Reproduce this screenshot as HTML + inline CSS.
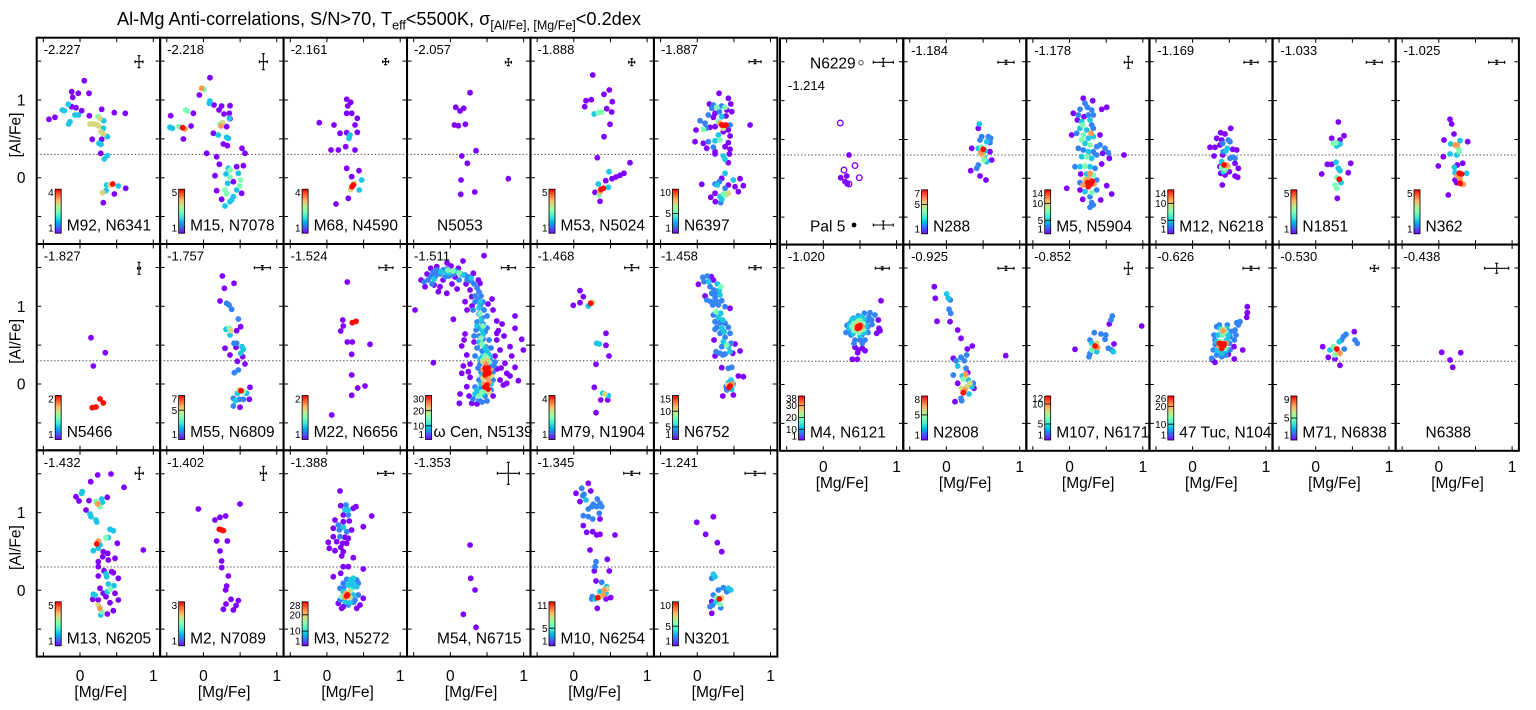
<!DOCTYPE html>
<html><head><meta charset="utf-8"><style>
html,body{margin:0;padding:0;background:#fff}
svg{display:block}
text{font-family:"Liberation Sans",Arial,sans-serif;fill:#000}
.d{fill:none;stroke-width:5.8;stroke-linecap:round}
.p{stroke:#8000ff}.b{stroke:#3584f5}.c{stroke:#1ec6e6}.g{stroke:#80ffb4}.y{stroke:#d6d880}.o{stroke:#ff9a55}.r{stroke:#ff0a00}
.eb{fill:none;stroke:#000;stroke-width:1.1}
.fe{font-size:13px}
.nm{font-size:15.5px}
.cb{font-size:10px;text-anchor:end}
.ct{fill:none;stroke:#000;stroke-width:.8}
.ax{font-size:15.5px}
</style></head><body>
<svg width="1536" height="710" viewBox="0 0 1536 710" xmlns="http://www.w3.org/2000/svg">
<defs>
<linearGradient id="rb" x1="0" y1="1" x2="0" y2="0">
<stop offset="0" stop-color="#8000ff"/><stop offset=".125" stop-color="#4062fa"/><stop offset=".25" stop-color="#00b4eb"/><stop offset=".375" stop-color="#40ebd4"/><stop offset=".5" stop-color="#80ffb4"/><stop offset=".625" stop-color="#bfeb8e"/><stop offset=".75" stop-color="#ffb462"/><stop offset=".875" stop-color="#ff6232"/><stop offset="1" stop-color="#ff0000"/>
</linearGradient>
<g id="ax">
<path d="M0 116.7H123.4" stroke="#555" stroke-width="1" stroke-dasharray="1.5 2" fill="none"/>
<path d="M6.65 0v4.5M43.3 0v4.5M80 0v4.5M116.6 0v4.5M6.65 206.3v-4.5M43.3 206.3v-4.5M80 206.3v-4.5M116.6 206.3v-4.5M0 23.45h4.5M0 62.3h4.5M0 101.15h4.5M0 140h4.5M0 178.85h4.5M123.4 23.45h-4.5M123.4 62.3h-4.5M123.4 101.15h-4.5M123.4 140h-4.5M123.4 178.85h-4.5" stroke="#000" stroke-width="1" fill="none"/>
<rect x="0" y="0" width="123.4" height="206.3" fill="none" stroke="#000" stroke-width="2"/>
</g>
<rect id="cb" x="18.5" y="151.5" width="6" height="44" fill="url(#rb)" stroke="#000" stroke-width=".8"/>
</defs>
<rect width="1536" height="710" fill="#fff"/>

<!-- Title -->
<text x="117" y="25" style="font-size:18.2px">Al-Mg Anti-correlations, S/N&gt;70, T<tspan dy="4.5" style="font-size:12.5px">eff</tspan><tspan dy="-4.5">&lt;5500K, σ</tspan><tspan dy="4.5" style="font-size:12.5px">[Al/Fe], [Mg/Fe]</tspan><tspan dy="-4.5">&lt;0.2dex</tspan></text>

<!-- Y axis labels left -->
<g class="ax">
<text x="25.5" y="105.5" text-anchor="end">1</text><text x="25.5" y="183.2" text-anchor="end">0</text>
<text transform="translate(20.5,135) rotate(-90)" text-anchor="middle">[Al/Fe]</text>
<text x="25.5" y="311.8" text-anchor="end">1</text><text x="25.5" y="389.5" text-anchor="end">0</text>
<text transform="translate(20.5,341.3) rotate(-90)" text-anchor="middle">[Al/Fe]</text>
<text x="25.5" y="518.1" text-anchor="end">1</text><text x="25.5" y="595.8" text-anchor="end">0</text>
<text transform="translate(20.5,547.6) rotate(-90)" text-anchor="middle">[Al/Fe]</text>
</g>

<!-- X axis labels left block -->
<g class="ax" text-anchor="middle">
<text x="80" y="681">0</text><text x="153.3" y="681">1</text><text x="100.7" y="697">[Mg/Fe]</text>
<text x="203.45" y="681">0</text><text x="276.75" y="681">1</text><text x="224.15" y="697">[Mg/Fe]</text>
<text x="326.9" y="681">0</text><text x="400.2" y="681">1</text><text x="347.6" y="697">[Mg/Fe]</text>
<text x="450.35" y="681">0</text><text x="523.65" y="681">1</text><text x="471.05" y="697">[Mg/Fe]</text>
<text x="573.8" y="681">0</text><text x="647.1" y="681">1</text><text x="594.5" y="697">[Mg/Fe]</text>
<text x="697.25" y="681">0</text><text x="770.55" y="681">1</text><text x="717.95" y="697">[Mg/Fe]</text>
<!-- right block -->
<text x="823.3" y="472">0</text><text x="896.6" y="472">1</text><text x="842" y="488">[Mg/Fe]</text>
<text x="946.4" y="472">0</text><text x="1019.7" y="472">1</text><text x="965.1" y="488">[Mg/Fe]</text>
<text x="1069.5" y="472">0</text><text x="1142.8" y="472">1</text><text x="1088.2" y="488">[Mg/Fe]</text>
<text x="1192.6" y="472">0</text><text x="1265.9" y="472">1</text><text x="1211.3" y="488">[Mg/Fe]</text>
<text x="1315.7" y="472">0</text><text x="1389" y="472">1</text><text x="1334.4" y="488">[Mg/Fe]</text>
<text x="1438.8" y="472">0</text><text x="1512.1" y="472">1</text><text x="1457.5" y="488">[Mg/Fe]</text>
</g>

<!-- ===== LEFT BLOCK ROW 1 ===== -->
<g transform="translate(36.7,37.7)">
<use href="#ax"/><use href="#cb"/>
<text class="cb" x="17" y="158.5">4</text><text class="cb" x="17" y="194">1</text>
<path class="d p" d="M12.3 81.6h.01M18.3 79.6h.01M47.6 43h.01M35 54h.01M36 59.6h.01M41.6 55.6h.01M52.3 55.6h.01M35 69h.01M39.3 70h.01M45 73h.01M52.6 78h.01M65 71.6h.01M77.6 75h.01M88.6 75.6h.01M55.6 101.6h.01M65 101.6h.01M64 115.6h.01M77.6 156.3h.01M89 150.6h.01M66.6 165h.01"/>
<path class="d c" d="M25.6 72.3h.01M27.6 73h.01M31.6 66.6h.01M38.3 77.3h.01M41.6 77.3h.01M33.3 84h.01M32 86.3h.01M67 83h.01M66.7 90.6h.01M70.6 99h.01M62.3 105.6h.01M64.3 106.6h.01M70.6 118h.01M67.6 121.3h.01M70 147.3h.01M81.6 148.3h.01M69.3 153h.01"/>
<path class="d g" d="M61.6 79h.01"/>
<path class="d y" d="M63.3 80.6h.01M53.3 86.3h.01M56 86.3h.01M59.3 86.6h.01M62 88.3h.01M64.3 94h.01M66.7 96.3h.01M73.3 147.3h.01M66 155h.01"/>
<path class="d r" d="M76 146.3h.01"/>
<path class="eb" d="M98.3 24H106.3M102.3 18V30M98.3 22.5v3M106.3 22.5v3M100.8 18h3M100.8 30h3"/>
<text class="fe" x="7" y="16.5">-2.227</text><text class="nm" x="30" y="193">M92, N6341</text>
</g>

<g transform="translate(160.15,37.7)">
<use href="#ax"/><use href="#cb"/>
<text class="cb" x="17" y="158.5">5</text><text class="cb" x="17" y="194">1</text>
<path class="d p" d="M10.5 78h.01M23.2 101.3h.01M30.9 88.3h.01M33.2 75.6h.01M39.2 57.3h.01M49.8 40h.01M53.85 67.3h.01M58.85 72.3h.01M69.85 68h.01M61.5 68.3h.01M63.85 76.3h.01M69.2 75.6h.01M69.85 81h.01M66.5 89h.01M53.2 95.6h.01M63.2 106.3h.01M67.2 108h.01M46.5 115.6h.01M56.5 119h.01M81.85 110.6h.01M84.85 115.6h.01M59.2 126.6h.01M76.5 129h.01M83.2 128h.01M73.2 144h.01M54.85 138h.01M56.5 153h.01M81.5 155.6h.01M61.5 161.6h.01"/>
<path class="d c" d="M9.8 89.6h.01M12.2 90.6h.01M49.8 63.3h.01M49.2 65.6h.01M69.2 80.6h.01M58.2 97.3h.01M66.5 99.6h.01M68.2 100.6h.01M68.2 130.6h.01M65.85 136.3h.01M78.2 135.6h.01M67.5 145.6h.01M76.5 152.3h.01M73.2 159h.01M71.5 162.3h.01M69.85 164h.01M64.85 168.3h.01"/>
<path class="d g" d="M18.85 89h.01M25.5 72.3h.01M27.2 73.3h.01M43.85 51.6h.01M59.85 86.3h.01M69.85 132.3h.01M69.85 139.6h.01M80.5 142.3h.01M79.5 148.3h.01M64.85 152.3h.01M66.5 156.3h.01"/>
<path class="d y" d="M62.5 85h.01"/>
<path class="d o" d="M24.85 91.3h.01M41.5 50.6h.01M60.85 88.3h.01"/>
<path class="d r" d="M22.5 90h.01"/>
<path class="eb" d="M99.2 24H107.2M103.2 16V32M99.2 22.5v3M107.2 22.5v3M101.7 16h3M101.7 32h3"/>
<text class="fe" x="7" y="16.5">-2.218</text><text class="nm" x="30" y="193">M15, N7078</text>
</g>

<g transform="translate(283.6,37.7)">
<use href="#ax"/><use href="#cb"/>
<text class="cb" x="17" y="158.5">4</text><text class="cb" x="17" y="194">1</text>
<path class="d p" d="M35.7 85h.01M50.4 87.3h.01M56.4 95.6h.01M63.1 95h.01M63.1 75.6h.01M63.1 61.6h.01M67.1 64.6h.01M64.1 68.3h.01M68.1 75.6h.01M73.7 80.6h.01M73.7 94.6h.01M71.4 87.3h.01M62.1 109h.01M47.4 112.3h.01M54.7 112.3h.01M71.4 112.3h.01M63.1 130.6h.01M68.1 139h.01M75.4 133h.01M64.7 160.6h.01M52.4 166.3h.01"/>
<path class="d c" d="M66.4 97.3h.01M65.4 100.6h.01M78 142.3h.01M75.7 152.3h.01"/>
<path class="d y" d="M70.7 145.6h.01M67.1 151.6h.01"/>
<path class="d r" d="M69.7 147.3h.01M68.4 149h.01"/>
<path class="eb" d="M99 24H105M102 21V27M99 22.5v3M105 22.5v3M100.5 21h3M100.5 27h3"/>
<text class="fe" x="7" y="16.5">-2.161</text><text class="nm" x="30" y="193">M68, N4590</text>
</g>

<g transform="translate(407.05,37.7)">
<use href="#ax"/>
<path class="d p" d="M63 55h.01M48.7 69.6h.01M53 73.3h.01M56.7 70.6h.01M47.3 87.3h.01M51.3 88h.01M58.3 86.6h.01M69 113h.01M54.7 118.3h.01M60.3 125.6h.01M54 142.3h.01M101.3 141h.01M53.7 156.6h.01M67.7 154.3h.01"/>
<path class="eb" d="M98.3 24.5H104.3M101.3 21V28M98.3 23v3M104.3 23v3M99.8 21h3M99.8 28h3"/>
<text class="fe" x="7" y="16.5">-2.057</text><text class="nm" x="30" y="193">N5053</text>
</g>

<g transform="translate(530.5,37.7)">
<use href="#ax"/><use href="#cb"/>
<text class="cb" x="17" y="158.5">5</text><text class="cb" x="17" y="194">1</text>
<path class="d p" d="M62.2 37.3h.01M78.8 52.3h.01M73.5 56.6h.01M55.5 63h.01M60.8 62h.01M81.8 64h.01M54.2 69h.01M76.2 71h.01M81.2 74.3h.01M79.5 86.6h.01M73.5 99h.01M66.8 120h.01M99.5 125h.01M93.5 135.6h.01M89.5 137.6h.01M85.5 139.3h.01M81.5 141h.01M75.2 143h.01M64.5 154.6h.01M69.5 163.6h.01"/>
<path class="d c" d="M63.8 76.3h.01M78.5 134h.01M67.8 146.3h.01M77.8 149.6h.01"/>
<path class="d g" d="M67.8 75h.01M71.2 74.3h.01M68.5 157.3h.01"/>
<path class="d o" d="M69.5 154h.01"/>
<path class="d r" d="M70.5 151.6h.01M72.8 150.6h.01"/>
<path class="eb" d="M98.2 24.5H104.2M101.2 21V28M98.2 23v3M104.2 23v3M99.7 21h3M99.7 28h3"/>
<text class="fe" x="7" y="16.5">-1.888</text><text class="nm" x="30" y="193">M53, N5024</text>
</g>

<g transform="translate(653.95,37.7)">
<use href="#ax"/><use href="#cb"/>
<path class="ct" d="M18.5 175.9h6"/>
<text class="cb" x="17" y="158.5">10</text><text class="cb" x="17" y="179.5">5</text><text class="cb" x="17" y="194">1</text>
<path class="d p" d="M65.1 55.6h.01M74.4 60.6h.01M76.8 66.3h.01M55.4 66.3h.01M72.8 72.3h.01M61.1 75.6h.01M77.8 74h.01M59.4 79.6h.01M72.1 78.3h.01M56.1 89.6h.01M96.1 87.3h.01M61.1 89h.01M69.4 94h.01M42.1 92.3h.01M74.4 92.3h.01M76.1 98.3h.01M41.1 104h.01M49.4 105.6h.01M74.4 105h.01M71.1 109h.01M52.8 110.6h.01M61.1 114h.01M76.1 111.6h.01M61.1 116.3h.01M75.4 116.3h.01M74.4 125h.01M67.8 140.6h.01M86.1 141h.01M89.4 148h.01M81.1 149h.01M47.8 146.6h.01M74.4 147.3h.01M84.4 154h.01M61.1 155.6h.01M56.8 159.6h.01M61.4 164h.01"/>
<path class="d b" d="M59.4 67.3h.01M67.8 68.3h.01M57.8 70.6h.01M65.4 74h.01M54.4 77.3h.01M46.1 83h.01M51.1 85.6h.01M52.1 90.6h.01M76.1 87.3h.01M54.4 104h.01M59.4 109.6h.01M65.4 144h.01M61.1 146.3h.01M71.1 150.6h.01M66.8 165h.01"/>
<path class="d c" d="M67.8 79h.01M64.4 97.3h.01M61.1 103h.01M69.4 118.3h.01M71.1 121.6h.01M71.1 135.6h.01M79.4 142.3h.01M63.4 147.3h.01M66.1 159h.01M67.8 161.6h.01"/>
<path class="d g" d="M62.8 69.6h.01M71.1 69.6h.01M64.4 84h.01M49.4 91.6h.01M66.1 102.3h.01M72.1 157.3h.01M69.4 156.3h.01"/>
<path class="d y" d="M69.4 90.6h.01M74.4 155.6h.01"/>
<path class="d o" d="M66.1 85.6h.01"/>
<path class="d r" d="M67.8 87.3h.01M72.1 87.3h.01M70 87.5h.01"/>
<path class="eb" d="M95.1 24H107.1M101.1 22V26M95.1 22.5v3M107.1 22.5v3M99.6 22h3M99.6 26h3"/>
<text class="fe" x="7" y="16.5">-1.887</text><text class="nm" x="30" y="193">N6397</text>
</g>

<!-- ===== LEFT BLOCK ROW 2 ===== -->
<g transform="translate(36.7,244)">
<use href="#ax"/><use href="#cb"/>
<text class="cb" x="17" y="158.5">2</text><text class="cb" x="17" y="194">1</text>
<path class="d p" d="M54.3 93.7h.01M68.6 108.7h.01M56.6 122h.01"/>
<path class="d r" d="M63.3 155h.01M66.6 159h.01M55.6 163.7h.01M59.3 163h.01"/>
<path class="eb" d="M100.8 24.3H103.8M102.3 18.3V30.3M100.8 22.8v3M103.8 22.8v3M100.8 18.3h3M100.8 30.3h3"/>
<text class="fe" x="7" y="16.5">-1.827</text><text class="nm" x="30" y="193">N5466</text>
</g>

<g transform="translate(160.15,244)">
<use href="#ax"/><use href="#cb"/>
<path class="ct" d="M18.5 166.2h6"/>
<text class="cb" x="17" y="158.5">7</text><text class="cb" x="17" y="169.8">5</text><text class="cb" x="17" y="194">1</text>
<path class="d p" d="M62.2 32h.01M73.85 39.3h.01M64.2 44.3h.01M59.85 57h.01M76.5 86.7h.01M80.5 82.7h.01M64.85 104.3h.01M75.85 103.3h.01M69.85 111h.01M82.5 112.7h.01M77.2 117.3h.01M84.85 120h.01M89.85 143.3h.01M89.2 155.3h.01M79.85 163.3h.01"/>
<path class="d b" d="M66.5 59.3h.01M68.85 61h.01M71.5 65.3h.01M78.2 75h.01M73.85 99.3h.01M76.5 99.3h.01M78.2 126h.01M74.2 128.7h.01M73.2 154.3h.01M79.2 155.3h.01M83.2 155.3h.01M73.2 162h.01"/>
<path class="d c" d="M65.85 85.3h.01M69.85 91h.01M81.85 102.7h.01M83.2 105.3h.01M80.5 109.3h.01M86.5 149.3h.01M77.2 149.3h.01M75.2 156.7h.01"/>
<path class="d g" d="M69.2 84.3h.01M83.2 147.7h.01"/>
<path class="d y" d="M70.85 86.7h.01M79.2 146h.01"/>
<path class="d r" d="M80.85 146.7h.01"/>
<path class="eb" d="M94.2 23.7H110.2M102.2 21.7V25.7M94.2 22.2v3M110.2 22.2v3M100.7 21.7h3M100.7 25.7h3"/>
<text class="fe" x="7" y="16.5">-1.757</text><text class="nm" x="30" y="193">M55, N6809</text>
</g>

<g transform="translate(283.6,244)">
<use href="#ax"/><use href="#cb"/>
<text class="cb" x="17" y="158.5">2</text><text class="cb" x="17" y="194">1</text>
<path class="d p" d="M63.7 38h.01M59.1 76h.01M59.7 82h.01M57.1 87h.01M63.7 98h.01M68.7 98h.01M86.4 100.3h.01M68.1 110.3h.01M68.1 131h.01M81.4 142h.01M74.1 144h.01M68.1 151.3h.01M48.1 171h.01"/>
<path class="d r" d="M68.7 78.7h.01M72.4 77.3h.01"/>
<path class="eb" d="M95.4 23.7H109.4M102.4 21.2V26.2M95.4 22.2v3M109.4 22.2v3M100.9 21.2h3M100.9 26.2h3"/>
<text class="fe" x="7" y="16.5">-1.524</text><text class="nm" x="30" y="193">M22, N6656</text>
</g>

<g transform="translate(407.05,244)">
<use href="#ax"/><use href="#cb"/>
<path class="ct" d="M18.5 166.7h6M18.5 181.8h6"/>
<text class="cb" x="17" y="158.5">30</text><text class="cb" x="17" y="170.3">20</text><text class="cb" x="17" y="185.4">10</text><text class="cb" x="17" y="194">1</text>
<path class="d p" d="M77 11.7h.01M8 66h.01M46.3 75.3h.01M26.3 118.7h.01M53 150h.01M52.3 159.3h.01M64.7 159.3h.01M108 72h.01M114.7 95.3h.01M116.3 106h.01M111.3 136.7h.01M108 84.3h.01M91.3 86.7h.01M89.7 77h.01M71.3 36h.01M39.7 49.3h.01M31.3 47.7h.01M18 42.7h.01M104.7 112h.01M108 123.3h.01M99.7 129.3h.01M93 136h.01M96.3 141h.01M54.7 102h.01M56.3 122h.01M61.3 127.7h.01M63 133.3h.01M59.7 142.7h.01M93 106h.01M103 102.7h.01M89.7 96h.01M58 57.7h.01M64.7 52.7h.01M51.3 24.3h.01M23.7 24.3h.01M29.7 22.7h.01M66.3 29.3h.01M73 39.3h.01M33 42.7h.01M63 46h.01M89.7 89.3h.01M98 119.3h.01M59.7 111h.01M54.7 129.3h.01M99.7 139.3h.01M20 30h.01M14 36h.01M45 40h.01M50 45h.01M85 55h.01M86 66h.01M58 90h.01M57 96h.01M97 92h.01M88 112h.01M94 124h.01M62 152h.01M70 160h.01M86 152h.01M44 22h.01M40 19h.01M56 17h.01M81 60h.01M95 80h.01M60 66h.01M65 62h.01M67 98h.01M90 125h.01M103 132h.01M63 120h.01M48 33h.01M36 36h.01M27 41h.01M59 40h.01"/>
<path class="d b" d="M21 36h.01M24 32h.01M26 28h.01M30 26h.01M28 33h.01M33 30h.01M36 26h.01M40 25h.01M44 27h.01M47 30h.01M50 28h.01M54 30h.01M58 31h.01M62 33h.01M64 37h.01M67 40h.01M70 44h.01M72 48h.01M74 52h.01M71 56h.01M76 58h.01M73 62h.01M77 66h.01M72 70h.01M75 74h.01M70 78h.01M76 80h.01M73 84h.01M78 88h.01M72 92h.01M76 95h.01M74 100h.01M79 103h.01M75 107h.01M81 110h.01M77 113h.01M83 116h.01M84 122h.01M73 120h.01M74 128h.01M86 128h.01M72 136h.01M86 136h.01M74 144h.01M84 146h.01M70 150h.01M78 152h.01M66 155h.01M72 156h.01M80 157h.01M17 38h.01M25 40h.01M38 33h.01M52 36h.01M68 52h.01M66 66h.01M80 72h.01M82 96h.01M70 104h.01M88 118h.01M68 112h.01M68 58h.01M69 86h.01M80 84h.01M67 92h.01M84 104h.01M71 124h.01M87 122h.01M75 158h.01M68 143h.01M30 30h.01M42 32h.01M60 36h.01"/>
<path class="d c" d="M34 28h.01M42 29h.01M56 31h.01M64 34h.01M27 35h.01M72 64h.01M74 76h.01M70 82h.01M76 90h.01M72 98h.01M78 104h.01M80 108h.01M73 115h.01M74 140h.01M84 140h.01M70 146h.01M76 150h.01M68 150h.01M48 27h.01M39 28h.01M73 58h.01M75 86h.01M76 112h.01M75 132h.01M83 112h.01"/>
<path class="d g" d="M46 27h.01M52 29h.01M73 70h.01M76 82h.01M75 100h.01M78 112h.01M82 118h.01M75 148h.01M72 152h.01M80 124h.01M41 26h.01M74 94h.01M80 114h.01M76 116h.01M79 146h.01"/>
<path class="d y" d="M80 116h.01M76 118h.01M84 132h.01M76 134h.01M82 148h.01"/>
<path class="d o" d="M76 126h.01M83 126h.01M79 120h.01M80 134h.01M77 140h.01M82 138h.01"/>
<path class="d r" d="M78 124h.01M81 124h.01M79 128h.01M82 129h.01M78 131h.01M80 141h.01M78 143h.01M81 145h.01"/>
<path class="eb" d="M94.3 23.7H108.3M101.3 21.7V25.7M94.3 22.2v3M108.3 22.2v3M99.8 21.7h3M99.8 25.7h3"/>
<text class="fe" x="7" y="16.5">-1.511</text><text class="nm" x="26.5" y="193">ω Cen, N5139</text>
</g>

<g transform="translate(530.5,244)">
<use href="#ax"/><use href="#cb"/>
<text class="cb" x="17" y="158.5">4</text><text class="cb" x="17" y="194">1</text>
<path class="d p" d="M49.5 46.7h.01M52.8 52.7h.01M42.8 61.3h.01M49.5 58.7h.01M75.5 89.3h.01M75.5 101.3h.01M78.5 112h.01M65.5 120.3h.01M63.8 143.3h.01M70.2 156h.01M77.2 156h.01M65.5 168.7h.01"/>
<path class="d c" d="M57.8 62h.01M66.2 99.3h.01M68.8 100h.01M72.2 149.3h.01M77.8 151.7h.01"/>
<path class="d y" d="M62.2 58.3h.01M74.5 150h.01"/>
<path class="d r" d="M60.2 59.3h.01"/>
<path class="eb" d="M94.2 23.7H108.2M101.2 20.7V26.7M94.2 22.2v3M108.2 22.2v3M99.7 20.7h3M99.7 26.7h3"/>
<text class="fe" x="7" y="16.5">-1.468</text><text class="nm" x="30" y="193">M79, N1904</text>
</g>

<g transform="translate(653.95,244)">
<use href="#ax"/><use href="#cb"/>
<path class="ct" d="M18.5 167.2h6M18.5 182.9h6"/>
<text class="cb" x="17" y="158.5">15</text><text class="cb" x="17" y="170.8">10</text><text class="cb" x="17" y="186.5">5</text><text class="cb" x="17" y="194">1</text>
<path class="d p" d="M57.4 32.7h.01M59.4 36h.01M44.4 40.3h.01M51.1 52h.01M76.1 64.3h.01M60.1 96h.01M81.1 100h.01M86.1 107h.01M61.1 112h.01M78.8 109.3h.01M67.8 123.7h.01M84.4 132h.01M89.4 132.7h.01M68.8 152h.01M79.4 151h.01"/>
<path class="d b" d="M48.8 33.3h.01M53.4 32h.01M50.1 37.7h.01M56.1 42.7h.01M60.1 46h.01M57.8 49.3h.01M62.8 49.3h.01M61.1 53.3h.01M52.8 56h.01M56.8 57.7h.01M62.1 56.7h.01M67.8 56.7h.01M58.8 61h.01M64.4 61h.01M71.1 62.7h.01M59.4 71h.01M61.1 77.7h.01M66.1 78.7h.01M71.1 79.3h.01M62.8 83.3h.01M61.1 85.3h.01M74.4 83.3h.01M76.1 89.3h.01M66.1 89.3h.01M71.1 93.3h.01M67.8 102.7h.01M77.1 99.3h.01M62.1 107.7h.01M66.1 109.3h.01M71.1 110h.01M68.8 111h.01M74.4 124.3h.01M77.8 123.3h.01M72.1 142.7h.01M72.8 146h.01"/>
<path class="d c" d="M54.8 37.7h.01M63.4 40h.01M65.4 46h.01M66.1 51h.01M66.8 69.3h.01M64.4 73.3h.01M68.8 76h.01M67.8 84.3h.01M70.1 87.7h.01M69.4 97.7h.01M74.4 102.7h.01M76.1 107.7h.01M77.1 136h.01M74.4 138.7h.01M79.4 140h.01M77.8 145.3h.01"/>
<path class="d g" d="M66.8 42.7h.01M62.1 67.7h.01M72.8 101h.01"/>
<path class="d y" d="M74 141h.01"/>
<path class="d o" d="M78 140h.01"/>
<path class="d r" d="M76.1 142h.01M75 143.5h.01"/>
<path class="eb" d="M95.1 23.7H107.1M101.1 21.7V25.7M95.1 22.2v3M107.1 22.2v3M99.6 21.7h3M99.6 25.7h3"/>
<text class="fe" x="7" y="16.5">-1.458</text><text class="nm" x="30" y="193">N6752</text>
</g>

<!-- ===== LEFT BLOCK ROW 3 ===== -->
<g transform="translate(36.7,450.3)">
<use href="#ax"/><use href="#cb"/>
<text class="cb" x="17" y="158.5">5</text><text class="cb" x="17" y="194">1</text>
<path class="d p" d="M54 31.4h.01M61 24.7h.01M74.3 23.7h.01M87.3 37h.01M39.3 46.4h.01M42.3 50.7h.01M52.3 50.3h.01M70.6 47h.01M66.6 101.4h.01M71 103h.01M80.6 93h.01M106.6 99.7h.01M66 106.4h.01M71.6 109.7h.01M78.3 108h.01M61.6 111.4h.01M61.6 116.4h.01M67.3 120.4h.01M75 121.4h.01M61.6 125.7h.01M76.6 122.4h.01M81.6 128h.01M63.3 138h.01M66.6 143h.01M78.3 143h.01M56 149h.01M61.6 149.7h.01M69.3 146.4h.01M73.3 152.4h.01M81.6 149.7h.01M70.6 163.7h.01M76.6 160.4h.01M49.3 59.7h.01"/>
<path class="d c" d="M45.6 41.4h.01M45 43h.01M65 48.7h.01M65.6 52h.01M53.3 63.7h.01M54.3 66.4h.01M59.3 69.7h.01M60 71.7h.01M73.3 79h.01M76.6 80.4h.01M71.6 87.4h.01M63.3 94.7h.01M56.6 100.4h.01M61.6 98h.01M70 126.4h.01M69.3 123.7h.01M71.6 133.7h.01M77.3 135.4h.01M70.6 141.4h.01M56.6 144h.01M58.3 144.7h.01M64 164.7h.01"/>
<path class="d g" d="M59.3 51.4h.01M63.3 56.4h.01M69.3 87.4h.01M73.3 139h.01M65 161.4h.01"/>
<path class="d y" d="M61.6 154.7h.01"/>
<path class="d o" d="M61 53.7h.01M61.6 90.7h.01M63.3 158h.01"/>
<path class="d r" d="M60 93.7h.01"/>
<path class="eb" d="M98.6 23H106.6M102.6 17V29M98.6 21.5v3M106.6 21.5v3M101.1 17h3M101.1 29h3"/>
<text class="fe" x="7" y="16.5">-1.432</text><text class="nm" x="30" y="193">M13, N6205</text>
</g>

<g transform="translate(160.15,450.3)">
<use href="#ax"/><use href="#cb"/>
<text class="cb" x="17" y="158.5">3</text><text class="cb" x="17" y="194">1</text>
<path class="d p" d="M38.2 58.7h.01M79.85 53.7h.01M54.85 69.7h.01M59.85 67h.01M65.5 65.7h.01M56.5 90.7h.01M67.2 90.7h.01M59.85 100.7h.01M61.5 110.7h.01M61.5 117.3h.01M68.2 125.7h.01M66.5 135.7h.01M65.5 139.7h.01M70.85 149h.01M78.2 150.3h.01M65.85 153.7h.01M75.85 155.3h.01M63.2 159h.01M73.2 159.7h.01"/>
<path class="d r" d="M59.2 79h.01M61.5 79.7h.01M63.2 80.3h.01"/>
<path class="eb" d="M100.2 23H106.2M103.2 16V30M100.2 21.5v3M106.2 21.5v3M101.7 16h3M101.7 30h3"/>
<text class="fe" x="7" y="16.5">-1.402</text><text class="nm" x="30" y="193">M2, N7089</text>
</g>

<g transform="translate(283.6,450.3)">
<use href="#ax"/><use href="#cb"/>
<path class="ct" d="M18.5 164.5h6M18.5 180.8h6"/>
<text class="cb" x="17" y="158.5">28</text><text class="cb" x="17" y="168.1">20</text><text class="cb" x="17" y="184.4">10</text><text class="cb" x="17" y="194">1</text>
<path class="d p" d="M56.4 40.7h.01M57.1 55.4h.01M69.7 58h.01M72.4 56.4h.01M59.7 64.7h.01M51.4 69.7h.01M59.7 71.4h.01M65.7 70.7h.01M88.1 65.7h.01M79.7 76.4h.01M49.7 78h.01M68 79.7h.01M49.7 86.4h.01M61.4 87h.01M64.7 88h.01M44.7 92h.01M53.1 91.4h.01M59.1 93h.01M63.1 93h.01M45.7 98h.01M57.1 97h.01M51.4 100.4h.01M59.7 101.4h.01M58.1 105.7h.01M69.7 107.4h.01M59.7 116.4h.01M64.7 116.4h.01M79.7 118.7h.01M49.7 126.4h.01M57.1 123h.01M54.7 153h.01M59.7 156.4h.01M73.1 158h.01M76.4 154.7h.01M58.1 158h.01M79.7 148h.01"/>
<path class="d b" d="M62.4 54.7h.01M64.7 64.7h.01M54.7 74.7h.01M55.7 79.7h.01M63.1 81.4h.01M56.4 86.4h.01M63.1 129h.01M73.1 129.7h.01M59.7 133h.01M74.7 133h.01M56.4 138h.01M56.4 149.7h.01M71.4 149.7h.01M64.7 154.7h.01M74.7 144.7h.01M60 138h.01M70 152h.01"/>
<path class="d c" d="M61.4 59.7h.01M64.7 59.7h.01M59.7 77h.01M66.4 129.7h.01M69.7 128h.01M64.7 134.7h.01M69.7 133h.01M59.7 141.4h.01M68 138h.01M73.1 136.4h.01M69.7 144.7h.01M61.4 151.4h.01M66.4 152.4h.01"/>
<path class="d g" d="M62.4 143h.01M58.1 146.4h.01M67 140h.01"/>
<path class="d y" d="M65.7 141.4h.01M66.4 147h.01"/>
<path class="d o" d="M61.4 147h.01M62 143.5h.01"/>
<path class="d r" d="M63.1 145.7h.01M64 144.7h.01"/>
<path class="eb" d="M94 23H110M102 21V25M94 21.5v3M110 21.5v3M100.5 21h3M100.5 25h3"/>
<text class="fe" x="7" y="16.5">-1.388</text><text class="nm" x="30" y="193">M3, N5272</text>
</g>

<g transform="translate(407.05,450.3)">
<use href="#ax"/>
<path class="d p" d="M63 94.7h.01M63.7 128h.01M68 139.7h.01M56.3 164h.01M69 177h.01"/>
<path class="eb" d="M90.3 23H112.3M101.3 12V34M90.3 21.5v3M112.3 21.5v3M99.8 12h3M99.8 34h3"/>
<text class="fe" x="7" y="16.5">-1.353</text><text class="nm" x="30" y="193">M54, N6715</text>
</g>

<g transform="translate(530.5,450.3)">
<use href="#ax"/><use href="#cb"/>
<path class="ct" d="M18.5 177.9h6"/>
<text class="cb" x="17" y="158.5">11</text><text class="cb" x="17" y="181.5">5</text><text class="cb" x="17" y="194">1</text>
<path class="d p" d="M57.8 33h.01M45.5 43h.01M60.2 40.7h.01M49.5 51.3h.01M69.5 68.7h.01M52.8 75.3h.01M56.2 82h.01M62.2 81.4h.01M69.5 84h.01M66.2 84.7h.01M84.5 84.7h.01M59.5 99.7h.01M76.8 109h.01M78.8 120.7h.01M63.8 120.7h.01M65.5 130.7h.01M80.2 147.3h.01M66.8 158h.01M75.5 148.7h.01"/>
<path class="d b" d="M51.2 38h.01M53.5 44h.01M52.2 45.4h.01M66.8 48.7h.01M69.5 53h.01M66.2 56.4h.01M61.2 56.4h.01M57.8 58.7h.01M62.8 54h.01M71.2 56.4h.01M52.8 65.4h.01M57.8 66.4h.01M62.2 68.7h.01M68.8 63h.01M65.5 111.4h.01M64.5 116.4h.01M71.2 132h.01M61.8 146.4h.01M61.2 148.7h.01"/>
<path class="d c" d="M55.5 49.7h.01M76.2 136.4h.01M69.5 141.4h.01M64.5 148.7h.01M75.5 143h.01"/>
<path class="d y" d="M76.8 138.7h.01M69.5 146.4h.01"/>
<path class="d o" d="M73.5 139.7h.01M72.8 144.7h.01"/>
<path class="d r" d="M67.2 147.4h.01"/>
<path class="eb" d="M93.2 23H109.2M101.2 21V25M93.2 21.5v3M109.2 21.5v3M99.7 21h3M99.7 25h3"/>
<text class="fe" x="7" y="16.5">-1.345</text><text class="nm" x="30" y="193">M10, N6254</text>
</g>

<g transform="translate(653.95,450.3)">
<use href="#ax"/><use href="#cb"/>
<path class="ct" d="M18.5 175.9h6"/>
<text class="cb" x="17" y="158.5">10</text><text class="cb" x="17" y="179.5">5</text><text class="cb" x="17" y="194">1</text>
<path class="d p" d="M59.4 66.4h.01M42.8 72h.01M51.7 84h.01M63.4 92.4h.01M67.8 101.4h.01M57.8 151.4h.01M57.8 163h.01"/>
<path class="d b" d="M57.8 128h.01M69.4 137.4h.01M72.8 141.4h.01M64.4 139.7h.01M59.4 144.7h.01M56.1 156.4h.01M58.8 154.7h.01M66.8 157.4h.01"/>
<path class="d c" d="M59.4 124h.01M61.1 126.4h.01M74.4 138h.01M76.8 139.7h.01M62.1 151.4h.01"/>
<path class="d g" d="M62.8 147.4h.01M66.1 154h.01"/>
<path class="d y" d="M67.8 147.4h.01"/>
<path class="d r" d="M65.4 148.7h.01"/>
<path class="eb" d="M91.1 23H111.1M101.1 21V25M91.1 21.5v3M111.1 21.5v3M99.6 21h3M99.6 25h3"/>
<text class="fe" x="7" y="16.5">-1.241</text><text class="nm" x="30" y="193">N3201</text>
</g>

<!-- ===== RIGHT BLOCK ROW 1 ===== -->
<g transform="translate(780,38.3)">
<use href="#ax"/>
<path class="d p" d="M69 116.7h.01M60.7 139.4h.01M66.7 137.7h.01M65 143.3h.01M67.3 145.7h.01"/>
<g fill="none" stroke="#8000ff" stroke-width="1.3"><circle cx="60.3" cy="84.7" r="2.8"/><circle cx="64" cy="131.7" r="2.8"/><circle cx="75" cy="127.3" r="2.8"/><circle cx="79.3" cy="139.4" r="2.8"/><circle cx="69" cy="145.7" r="2.8"/></g>
<circle cx="81" cy="24.4" r="2.2" fill="none" stroke="#555" stroke-width="1"/>
<circle cx="74" cy="186.7" r="2.4" fill="#000"/>
<path class="eb" d="M93.3 24H113.3M103.3 20V28M93.3 22.5v3M113.3 22.5v3M101.8 20h3M101.8 28h3M93.3 186.7H113.3M103.3 182.7V190.7M93.3 185.2v3M113.3 185.2v3M101.8 182.7h3M101.8 190.7h3"/>
<text class="nm" x="30" y="30">N6229</text>
<text class="fe" x="8" y="51.7">-1.214</text>
<text class="nm" x="30" y="193">Pal 5</text>
</g>

<g transform="translate(903.1,38.3)">
<use href="#ax"/><use href="#cb"/>
<path class="ct" d="M18.5 166.2h6"/>
<text class="cb" x="17" y="158.5">7</text><text class="cb" x="17" y="169.8">5</text><text class="cb" x="17" y="194">1</text>
<path class="d p" d="M75.2 90h.01M68.6 110h.01M86.9 113.4h.01M88.6 121.7h.01M67.6 132.4h.01M76.9 137.7h.01M82.9 141.7h.01"/>
<path class="d b" d="M85.2 98.4h.01M87.6 100h.01M78.6 98.4h.01M76.9 101.7h.01M86.9 104.4h.01M75.2 126.7h.01M73.6 130h.01"/>
<path class="d c" d="M76.2 85.7h.01M83.6 103.4h.01M75.2 110h.01M81.9 112.4h.01M80.9 118.4h.01M83.6 123.4h.01"/>
<path class="d g" d="M78.6 109h.01M80.9 121.7h.01"/>
<path class="d y" d="M79.6 116.7h.01"/>
<path class="d o" d="M78.6 115h.01M77.6 114.4h.01"/>
<path class="d r" d="M80.2 111h.01"/>
<path class="eb" d="M94.9 24H110.9M102.9 22V26M94.9 22.5v3M110.9 22.5v3M101.4 22h3M101.4 26h3"/>
<text class="fe" x="8" y="16.5">-1.184</text><text class="nm" x="30" y="193">N288</text>
</g>

<g transform="translate(1026.2,38.3)">
<use href="#ax"/><use href="#cb"/>
<path class="ct" d="M18.5 165h6M18.5 182h6"/>
<text class="cb" x="17" y="158.5">14</text><text class="cb" x="17" y="168.6">10</text><text class="cb" x="17" y="185.6">5</text><text class="cb" x="17" y="194">1</text>
<path class="d p" d="M57.1 60h.01M66.5 62.4h.01M80.5 69h.01M75.5 71h.01M47.1 75h.01M57.8 78.4h.01M51.1 81.7h.01M73.8 96.7h.01M45.5 96.7h.01M76.5 115h.01M83.1 120h.01M97.8 116.7h.01M75.5 125.7h.01M54.5 135.7h.01M80.5 147.4h.01M40.5 150h.01M53.8 151.7h.01M85.5 155.7h.01M56.5 161h.01M74.5 161.7h.01"/>
<path class="d b" d="M58.8 65h.01M61.1 69h.01M53.8 71h.01M65.5 71.7h.01M52.1 76.7h.01M62.1 76.7h.01M67.1 76.7h.01M65.5 86.7h.01M67.1 90h.01M50.5 95h.01M70.5 108.4h.01M73.8 106.7h.01M52.1 110h.01M57.1 111.7h.01M67.1 113.4h.01M78.8 110h.01M82.1 114.4h.01M70.5 116.7h.01M48.8 128.4h.01M68.8 130h.01M70.5 141.7h.01M53.8 144.4h.01M70.5 151.7h.01M63.8 158.4h.01M65.5 164.4h.01M67.1 166.7h.01M63.8 169h.01"/>
<path class="d c" d="M55.5 83.4h.01M63.8 81.7h.01M53.8 90h.01M60.5 91.7h.01M62.1 100h.01M67.1 98.4h.01M58.8 105h.01M62.1 113.4h.01M55.5 118.4h.01M65.5 120h.01M53.8 128.4h.01M63.8 128.4h.01M60.5 135.7h.01M58.8 153.4h.01"/>
<path class="d g" d="M56.5 86.7h.01M57.1 96.7h.01M55.5 101.7h.01M63.8 106.7h.01M60.5 118.4h.01M58.8 127.7h.01M67.1 136.7h.01M65.5 154.4h.01"/>
<path class="d y" d="M58.8 141h.01"/>
<path class="d o" d="M64.8 95h.01M63.8 135h.01M67.8 145.7h.01M57.1 146.7h.01M60 143h.01M63 141h.01"/>
<path class="d r" d="M61.5 144.4h.01M64.5 145.7h.01M62.1 148.4h.01M63 147h.01M66 143h.01"/>
<path class="eb" d="M98.1 24H106.1M102.1 18V30M98.1 22.5v3M106.1 22.5v3M100.6 18h3M100.6 30h3"/>
<text class="fe" x="8" y="16.5">-1.178</text><text class="nm" x="30" y="193">M5, N5904</text>
</g>

<g transform="translate(1149.3,38.3)">
<use href="#ax"/><use href="#cb"/>
<path class="ct" d="M18.5 165h6M18.5 182h6"/>
<text class="cb" x="17" y="158.5">14</text><text class="cb" x="17" y="168.6">10</text><text class="cb" x="17" y="185.6">5</text><text class="cb" x="17" y="194">1</text>
<path class="d p" d="M81.4 90h.01M71.4 94.4h.01M75.7 95.7h.01M67.4 100h.01M72.4 101.7h.01M60.7 109h.01M65.7 109h.01M70.7 106.7h.01M83.4 111h.01M87.4 111.7h.01M64.7 117.7h.01M73.4 116.7h.01M80 133.4h.01M70.7 128.4h.01M89 130h.01M85.7 125h.01M71.4 135h.01M85.7 137.7h.01M88.4 139h.01M75.7 136.7h.01M73 146.7h.01"/>
<path class="d b" d="M79 101.7h.01M80.7 103.4h.01M73.4 105h.01M74 113.4h.01M80.7 120h.01M84 119h.01M85.7 120h.01"/>
<path class="d c" d="M78 110h.01M76.7 112.4h.01M72.4 123.4h.01M74 133.4h.01"/>
<path class="d g" d="M72.4 129h.01M75.7 131.7h.01"/>
<path class="d y" d="M79 128.4h.01"/>
<path class="d o" d="M77.4 126.7h.01"/>
<path class="d r" d="M74.7 126.7h.01"/>
<path class="eb" d="M94.7 24H108.7M101.7 22V26M94.7 22.5v3M108.7 22.5v3M100.2 22h3M100.2 26h3"/>
<text class="fe" x="8" y="16.5">-1.169</text><text class="nm" x="30" y="193">M12, N6218</text>
</g>

<g transform="translate(1272.4,38.3)">
<use href="#ax"/><use href="#cb"/>
<text class="cb" x="17" y="158.5">5</text><text class="cb" x="17" y="194">1</text>
<path class="d p" d="M65.9 83.7h.01M59.3 100h.01M67.6 101.7h.01M71.6 97.4h.01M54.9 126h.01M59.3 126h.01M78.3 125h.01M49.3 135.7h.01M75.9 134.4h.01M64.9 160h.01"/>
<path class="d c" d="M64.3 107.7h.01M67.6 105.7h.01M63.6 124h.01M65.9 130h.01M67.6 132.4h.01M68.6 144.4h.01"/>
<path class="d g" d="M60.9 105h.01M63.6 104.4h.01M64.3 139.4h.01M62.6 146.7h.01M64.3 150h.01"/>
<path class="d r" d="M66.9 141h.01"/>
<path class="eb" d="M93.9 24H109.9M101.9 22V26M93.9 22.5v3M109.9 22.5v3M100.4 22h3M100.4 26h3"/>
<text class="fe" x="8" y="16.5">-1.033</text><text class="nm" x="30" y="193">N1851</text>
</g>

<g transform="translate(1395.5,38.3)">
<use href="#ax"/><use href="#cb"/>
<text class="cb" x="17" y="158.5">5</text><text class="cb" x="17" y="194">1</text>
<path class="d p" d="M54.5 81h.01M56.2 85.7h.01M48.5 101.7h.01M58.5 95.7h.01M72.2 103.4h.01M47.8 118.4h.01M42.8 127.7h.01M61.8 126.7h.01M67.2 125h.01M59.5 141.7h.01M61.2 144.4h.01M52.8 156.7h.01"/>
<path class="d c" d="M55.2 105.7h.01M64.5 102.4h.01M61.2 116.7h.01M54.5 115.7h.01M58.8 129h.01M59.5 134.4h.01M71.2 135h.01"/>
<path class="d g" d="M62.8 110h.01M63.8 113.4h.01"/>
<path class="d o" d="M59.5 106.7h.01M61.8 106.7h.01M61.8 137.7h.01M64.5 141h.01M66.2 145.7h.01M67.8 146h.01"/>
<path class="d r" d="M63.8 135h.01M66.2 135.7h.01M64.5 145h.01"/>
<path class="eb" d="M93.2 24H109.2M101.2 22V26M93.2 22.5v3M109.2 22.5v3M99.7 22h3M99.7 26h3"/>
<text class="fe" x="8" y="16.5">-1.025</text><text class="nm" x="30" y="193">N362</text>
</g>

<!-- ===== RIGHT BLOCK ROW 2 ===== -->
<g transform="translate(780,244.5)">
<use href="#ax"/><use href="#cb"/>
<path class="ct" d="M18.5 161h6M18.5 172.9h6M18.5 184.8h6"/>
<text class="cb" x="17" y="157.5">38</text><text class="cb" x="17" y="164.6">30</text><text class="cb" x="17" y="176.5">20</text><text class="cb" x="17" y="188.4">10</text><text class="cb" x="17" y="195">1</text>
<path class="d p" d="M101 56.2h.01M98.3 75.5h.01M99 83.8h.01M100 86.2h.01M96.7 88.8h.01M75 102.8h.01M78.3 105.5h.01M82.3 103.8h.01M85 106.2h.01M77.7 108.2h.01M72.3 114.8h.01M77.3 114.8h.01"/>
<path class="d b" d="M84.3 68.8h.01M90 68.2h.01M95 70.5h.01M91.7 75.5h.01M70 78.8h.01M69 85.5h.01M71 90.5h.01M75 95.5h.01M80 95.5h.01M85 95.5h.01M82.3 98.8h.01M86.7 77.2h.01M89 72.8h.01M87.7 82.2h.01M81.7 90.5h.01M73.3 73.8h.01M78.3 71.5h.01M88 88h.01M67 81h.01M66 88h.01M74 99h.01M92 80h.01"/>
<path class="d c" d="M70 80h.01M72 75h.01M78 73h.01M84 75h.01M86 81h.01M85 88h.01M80 91h.01M73 89h.01M69 84h.01M76 74h.01M82 72h.01"/>
<path class="d g" d="M74 79h.01M78 77h.01M83 79h.01M83 85h.01M79 88h.01M74 86h.01M72 82h.01M80 76h.01"/>
<path class="d y" d="M76 81h.01M81 81h.01M80 85h.01M76 84h.01M78 79h.01"/>
<path class="d o" d="M77 82h.01M80 83h.01M82 82h.01"/>
<path class="d r" d="M78 82h.01M79.5 83h.01M77.5 84h.01M80 81h.01"/>
<path class="eb" d="M95.3 23.8H109.3M102.3 22.3V25.3M95.3 22.3v3M109.3 22.3v3M100.8 22.3h3M100.8 25.3h3"/>
<text class="fe" x="8" y="16.5">-1.020</text><text class="nm" x="30" y="193">M4, N6121</text>
</g>

<g transform="translate(903.1,244.5)">
<use href="#ax"/><use href="#cb"/>
<path class="ct" d="M18.5 170.4h6"/>
<text class="cb" x="17" y="158.5">8</text><text class="cb" x="17" y="174">5</text><text class="cb" x="17" y="194">1</text>
<path class="d p" d="M31.2 42.2h.01M32.2 53.8h.01M46.9 77.2h.01M33.9 76.8h.01M54.6 85.5h.01M57.9 93.8h.01M64.2 104.5h.01M69.2 101.5h.01M50.2 113.8h.01M64.6 128.2h.01M102.6 111.2h.01M70.9 143.8h.01M54.6 138.8h.01M51.9 157.2h.01"/>
<path class="d b" d="M47.2 55.5h.01M45.9 64.8h.01M47.6 68.8h.01M63.6 110.5h.01M57.9 112.8h.01M52.9 116.2h.01M61.2 116.2h.01M62.9 123.8h.01M50.2 130.5h.01M57.9 153.8h.01M58.6 156.2h.01M70.2 138.8h.01"/>
<path class="d c" d="M43.6 49.5h.01M45.2 53.8h.01M54.6 121.5h.01M59.2 131.5h.01M65.2 135.5h.01M68.6 142.2h.01M65.9 149.5h.01"/>
<path class="d g" d="M60.2 134.8h.01"/>
<path class="d y" d="M62.6 131.5h.01M66.9 138.8h.01M63.6 142.2h.01M58.6 143.8h.01"/>
<path class="d o" d="M61.9 145.5h.01M62.6 129.5h.01"/>
<path class="d r" d="M60.2 148.2h.01"/>
<path class="eb" d="M94.9 23.8H110.9M102.9 21.8V25.8M94.9 22.3v3M110.9 22.3v3M101.4 21.8h3M101.4 25.8h3"/>
<text class="fe" x="8" y="16.5">-0.925</text><text class="nm" x="30" y="193">N2808</text>
</g>

<g transform="translate(1026.2,244.5)">
<use href="#ax"/><use href="#cb"/>
<path class="ct" d="M18.5 159.5h6M18.5 179.5h6"/>
<text class="cb" x="17" y="157.5">12</text><text class="cb" x="17" y="163.1">10</text><text class="cb" x="17" y="183.1">5</text><text class="cb" x="17" y="194">1</text>
<path class="d p" d="M83.1 79.5h.01M115.5 81.5h.01M87.8 99.5h.01M48.8 104.8h.01"/>
<path class="d b" d="M86.1 71.5h.01M84.8 75.5h.01M68.1 88.2h.01M74.8 89.5h.01M79.5 90.5h.01M78.8 94.8h.01M63.8 95.5h.01M63.8 108.8h.01M62.8 112.2h.01M82.1 103.8h.01M85.5 105.5h.01"/>
<path class="d c" d="M65.5 98.8h.01M70.5 107.2h.01M87.1 107.2h.01"/>
<path class="d g" d="M67.1 102.2h.01M65.5 105.5h.01"/>
<path class="d y" d="M70.5 98.8h.01"/>
<path class="d o" d="M71.5 102.8h.01"/>
<path class="d r" d="M68.8 101.5h.01"/>
<path class="eb" d="M98.1 23.8H106.1M102.1 17.8V29.8M98.1 22.3v3M106.1 22.3v3M100.6 17.8h3M100.6 29.8h3"/>
<text class="fe" x="8" y="16.5">-0.852</text><text class="nm" x="30" y="193">M107, N6171</text>
</g>

<g transform="translate(1149.3,244.5)">
<use href="#ax"/><use href="#cb"/>
<path class="ct" d="M18.5 162.1h6M18.5 179.7h6"/>
<text class="cb" x="17" y="157.5">26</text><text class="cb" x="17" y="165.7">20</text><text class="cb" x="17" y="183.3">10</text><text class="cb" x="17" y="194">1</text>
<path class="d p" d="M98 62.2h.01M98 68.2h.01M97.4 72.8h.01M93.4 105.5h.01M85 114.5h.01M65.7 117.8h.01M84.7 102.2h.01M79 109.8h.01M63.4 115.5h.01"/>
<path class="d b" d="M89 80.5h.01M87.4 78.2h.01M90.7 77.2h.01M85.7 85.5h.01M86.7 90.5h.01M85 95.5h.01M80.7 92.2h.01M67.4 82.2h.01M64.7 90.5h.01M65.7 95.5h.01M64 105.5h.01M67.4 110.5h.01M62.4 113.8h.01M72.4 112.2h.01M76.7 110.5h.01M80 98.8h.01M80.7 105.5h.01M70 80.5h.01M78 80.5h.01M82 87h.01M66 100h.01"/>
<path class="d c" d="M70.7 83.8h.01M77.4 83.8h.01M69 90.5h.01M79 90.5h.01M67.4 97.2h.01M77.4 95.5h.01M68 105.5h.01M76.7 105.5h.01M72.4 108.8h.01"/>
<path class="d g" d="M72.4 85.5h.01M75.7 87.2h.01M73.4 90.5h.01M70.7 102.2h.01M75.7 103.8h.01M70.7 97.2h.01"/>
<path class="d y" d="M74.7 84.8h.01M74 98.2h.01"/>
<path class="d o" d="M73.4 86.5h.01M76.7 98.8h.01M70 101.5h.01"/>
<path class="d r" d="M71.7 99.5h.01M74 101.5h.01M72.4 103.8h.01M70 98.8h.01M74.7 99.5h.01"/>
<path class="eb" d="M93.7 23.8H109.7M101.7 21.8V25.8M93.7 22.3v3M109.7 22.3v3M100.2 21.8h3M100.2 25.8h3"/>
<text class="fe" x="8" y="16.5">-0.626</text><text class="nm" x="30" y="193">47 Tuc, N104</text>
</g>

<g transform="translate(1272.4,244.5)">
<use href="#ax"/><use href="#cb"/>
<path class="ct" d="M18.5 173.5h6"/>
<text class="cb" x="17" y="158.5">9</text><text class="cb" x="17" y="177.1">5</text><text class="cb" x="17" y="194">1</text>
<path class="d p" d="M81.9 87.2h.01M50.3 102.2h.01M55.9 112.8h.01M62.6 114.2h.01M67.6 120.8h.01"/>
<path class="d b" d="M73.6 89.8h.01M71 92.2h.01M69.3 95.5h.01M82.6 95.5h.01M84.9 98.8h.01M71.9 104.5h.01"/>
<path class="d c" d="M66.9 97.2h.01M57.6 105.5h.01"/>
<path class="d g" d="M60.9 102.2h.01M62.6 110.5h.01"/>
<path class="d y" d="M65.9 107.2h.01"/>
<path class="d o" d="M67.6 108.8h.01"/>
<path class="d r" d="M64.3 104.5h.01"/>
<path class="eb" d="M97.9 23.8H105.9M101.9 20.8V26.8M97.9 22.3v3M105.9 22.3v3M100.4 20.8h3M100.4 26.8h3"/>
<text class="fe" x="8" y="16.5">-0.530</text><text class="nm" x="30" y="193">M71, N6838</text>
</g>

<g transform="translate(1395.5,244.5)">
<use href="#ax"/>
<path class="d p" d="M46.2 107.8h.01M54.5 115.5h.01M65.2 108.2h.01M57.2 122.8h.01"/>
<path class="eb" d="M89.2 23.8H113.2M101.2 18.8V28.8M89.2 22.3v3M113.2 22.3v3M99.7 18.8h3M99.7 28.8h3"/>
<text class="fe" x="8" y="16.5">-0.438</text><text class="nm" x="30" y="193">N6388</text>
</g>

</svg>
</body></html>
